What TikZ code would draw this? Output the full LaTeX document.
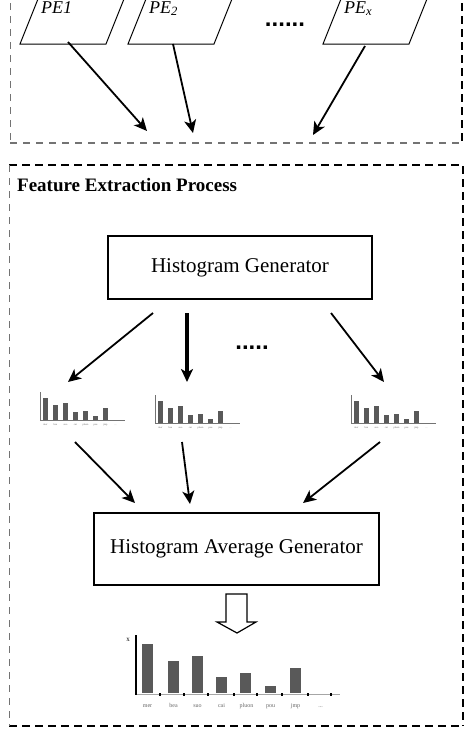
\documentclass[tikz,border=0pt]{standalone}
\usepackage{fontspec}
\setmainfont{Liberation Serif}
\newfontfamily\dotfont{Liberation Sans}
\usetikzlibrary{arrows.meta,calc,positioning}

\tikzset{
  genbox/.style={draw,line width=1.4pt,font=\fontsize{21}{24}\selectfont,inner sep=0pt},
  arr/.style={-{Stealth[length=13pt,width=12pt,inset=3.5pt]},line width=1.8pt},
  dashblack/.style={line width=1.8pt,dash pattern=on 8pt off 5pt},
  dashgray/.style={black!55,line width=0.8pt,dash pattern=on 7pt off 6pt},
  pelabel/.style={font=\fontsize{18}{20}\selectfont\itshape,anchor=base west,inner sep=0pt},
  dotrow/.style={font=\fontsize{24}{26}\selectfont\dotfont\bfseries,anchor=base,inner sep=0pt},
  tinylabel/.style={font=\fontsize{2.6}{3}\selectfont,black!60,inner sep=0pt,anchor=base},
  axislabel/.style={font=\fontsize{6}{7}\selectfont,black!60,inner sep=0pt,anchor=base},
  minihist/.pic={
    \draw[black!55,line width=0.6pt] (0,-28) -- (0,0) -- (85,0);
    \foreach \i/\h in {0/22,1/15,2/17,3/8,4/9,5/4,6/12}
      \fill[black!65] (3+10*\i,0) rectangle ++(5,-\h);
    \foreach \i/\t in {0/mer,1/bea,2/suo,3/cai,4/pluon,5/pou,6/jmp}
      \node[tinylabel] at (5.5+10*\i,5) {\t};
    \node[tinylabel] at (75.5,5) {...};
  }
}

\begin{document}
\begin{tikzpicture}[x=1pt,y=-1pt]
\useasboundingbox (0,0) rectangle (474,737);
\clip (0,0) rectangle (474,737);

% input box
\draw[dashgray] (10,-10) -- (10,143);
\draw[dashgray,line width=1.2pt] (10,143) -- (462,143);
\draw[dashblack] (462,-10) -- (462,143);

% PE blocks
\foreach \x in {20,128,323}
  \draw[line width=1pt] (\x,44) -- ++(86,0) -- ++(24,-60) -- ++(-86,0) -- cycle;
\node[pelabel] (pe1) at (41,13) {PE1};
\node[pelabel] (pe2) at (149,13) {PE\textsubscript{2}};
\node[pelabel] (pex) at (344,13) {PE\textsubscript{x}};
\node[dotrow] (pedots) at (285,26) {......};

\coordinate (pe1out) at (68,42);
\coordinate (pe2out) at (173,44);
\coordinate (pexout) at (365,46);
\coordinate (in1) at (147,131);
\coordinate (in2) at (193,133);
\coordinate (inx) at (313,135);
\draw[arr] (pe1out) -- (in1);
\draw[arr] (pe2out) -- (in2);
\draw[arr] (pexout) -- (inx);

% feature extraction box
\draw[dashblack] (9,165) -- (463,165) -- (463,726);
\draw[dashblack] (9,726) -- (463,726);
\draw[dashgray] (9,165) -- (9,726);
\node[font=\fontsize{19}{22}\selectfont\bfseries,anchor=west,inner sep=0pt] (title) at (17,185) {Feature Extraction Process};

\node[genbox,minimum width=264pt,minimum height=63pt] (hg) at (240,267.5) {Histogram Generator};

% histograms
\coordinate (hist1) at (40,420);
\coordinate (hist2) at (155,423);
\coordinate (hist3) at (351,423);
\pic at (hist1) {minihist};
\pic at (hist2) {minihist};
\pic at (hist3) {minihist};

\coordinate (hg1) at (153,313);
\coordinate (hg2) at (187,313);
\coordinate (hg3) at (331,313);
\coordinate (h1in) at (68,382);
\coordinate (h2in) at (187,382);
\coordinate (h3in) at (384,382);
\draw[arr] (hg1) -- (h1in);
\draw[arr,line width=3.4pt] (hg2) -- (h2in);
\draw[arr] (hg3) -- (h3in);
\node[dotrow] (hgdots) at (252,349) {.....};

\node[genbox,minimum width=285pt,minimum height=72pt] (hag) at (236.5,549) {Histogram Average Generator};

\coordinate (h1out) at (75,442);
\coordinate (h2out) at (182,442);
\coordinate (h3out) at (380,442);
\coordinate (hag1) at (135,503);
\coordinate (hag2) at (190,504);
\coordinate (hag3) at (303,503);
\draw[arr] (h1out) -- (hag1);
\draw[arr] (h2out) -- (hag2);
\draw[arr] (h3out) -- (hag3);

% block arrow
\draw[line width=1.2pt,line join=miter] (226,594) -- (226,622) -- (217,622) -- (237,633)
  -- (256,622) -- (247,622) -- (247,594) -- cycle;

% averaged histogram
\draw[black!35,line width=0.5pt] (136,694) -- (340,694);
\draw[line width=2pt] (136,635) -- (136,695);
\foreach \x/\h in {142/49,168/32,192/37,216/16,240/20,265/7,290/25}
  \fill[black!65] (\x,693) rectangle ++(11,-\h);
\foreach \x in {160,184,208,234,257,282,308,331}
  \fill (\x-0.6,693) rectangle ++(1.2,2.5);
\node[font=\fontsize{7}{8}\selectfont,inner sep=0pt] (xlab) at (128,640) {x};
\foreach \x/\t in {147/mer,173/bea,197/suo,221/cai,246/pluon,270/pou,295/jmp}
  \node[axislabel] at (\x+0.5,707) {\t};
\node[axislabel] (moredots) at (320.5,707) {...};
\end{tikzpicture}
\end{document}
